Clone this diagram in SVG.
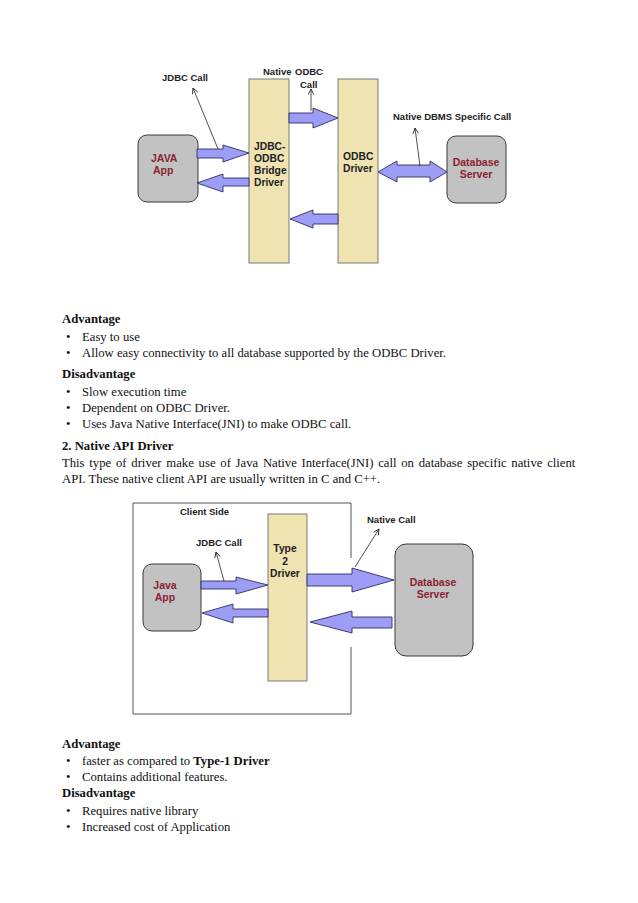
<svg xmlns="http://www.w3.org/2000/svg" width="638" height="903" viewBox="0 0 638 903">
<defs>
<marker id="open" viewBox="0 0 10 10" refX="9" refY="5" markerWidth="7" markerHeight="7" orient="auto" markerUnits="userSpaceOnUse">
<path d="M1,1 L9,5 L1,9" fill="none" stroke="#222" stroke-width="1.2"/>
</marker>
</defs>
<style>
.lbl{font-family:"Liberation Sans",Arial,sans-serif;font-weight:bold;font-size:9.5px;fill:#222}
.in{font-family:"Liberation Sans",Arial,sans-serif;font-weight:bold;font-size:10.3px;fill:#222}
.red{font-family:"Liberation Sans",Arial,sans-serif;font-weight:bold;font-size:10.5px;fill:#8b2232}
.gray{fill:#c2c2c2;stroke:#3a3a3a;stroke-width:1}
.drv{fill:#efe3b2;stroke:#7a7a7a;stroke-width:1}
.arr{fill:#9d9df5;stroke:#2e2e66;stroke-width:0.9}
.ptr{fill:none;stroke:#222;stroke-width:0.8;marker-end:url(#open)}
.body{font-family:"Liberation Serif","Times New Roman",serif;font-size:12.7px;fill:#111}
.b{font-weight:bold}
.box{fill:none;stroke:#555;stroke-width:1}
</style>
<rect width="638" height="903" fill="#fff"/>

<!-- Diagram 1 -->
<g id="java-app1">
<rect class="gray" x="138" y="135" width="60" height="67" rx="9"/>
<text class="red" x="151" y="162">JAVA</text>
<text class="red" x="153" y="174">App</text>
</g>
<g id="bridge">
<rect class="drv" x="249" y="79" width="40" height="184"/>
<text class="in" x="254" y="150">JDBC-</text>
<text class="in" x="254" y="162">ODBC</text>
<text class="in" x="254" y="174">Bridge</text>
<text class="in" x="254" y="186">Driver</text>
</g>
<g id="odbc-driver">
<rect class="drv" x="338" y="79" width="40" height="184"/>
<text class="in" x="343" y="160">ODBC</text>
<text class="in" x="343" y="172">Driver</text>
</g>
<g id="db-server1">
<rect class="gray" x="447" y="136" width="59" height="67" rx="9"/>
<text class="red" x="476" y="166" text-anchor="middle">Database</text>
<text class="red" x="476" y="178" text-anchor="middle">Server</text>
</g>
<g id="labels1">
<text class="lbl" x="162" y="81">JDBC Call</text>
<text class="lbl" x="263" y="75">Native</text>
<text class="lbl" x="295" y="75">ODBC</text>
<text class="lbl" x="300" y="88">Call</text>
<text class="lbl" x="393" y="120">Native DBMS Specific Call</text>
</g>
<g id="connectors1">
<polygon class="arr" points="197,149 223,149 223,145 249,153 223,162 223,158 197,158"/>
<polygon class="arr" points="249,178 223,178 223,174 197,183 223,192 223,186 249,186"/>
<polygon class="arr" points="289,113 313,113 313,108 338,118 313,128 313,123 289,123"/>
<polygon class="arr" points="338,214 313,214 313,210 290,219 313,228 313,224 338,224"/>
<polygon class="arr" points="378,172 397,161 397,165 430,165 430,161 447,172 430,182 430,177 397,177 397,182"/>
<line class="ptr" x1="218" y1="149" x2="193" y2="88"/>
<line class="ptr" x1="311" y1="111" x2="311" y2="89"/>
<line class="ptr" x1="420" y1="166" x2="415" y2="128"/>
</g>

<!-- Text block 1 -->
<g id="text1">
<text class="body b" x="62" y="323">Advantage</text>
<text class="body" x="66" y="341">•</text><text class="body" x="82" y="341">Easy to use</text>
<text class="body" x="66" y="357">•</text><text class="body" x="82" y="357">Allow easy connectivity to all database supported by the ODBC Driver.</text>
<text class="body b" x="62" y="378">Disadvantage</text>
<text class="body" x="66" y="396">•</text><text class="body" x="82" y="396">Slow execution time</text>
<text class="body" x="66" y="412">•</text><text class="body" x="82" y="412">Dependent on ODBC Driver.</text>
<text class="body" x="66" y="428">•</text><text class="body" x="82" y="428">Uses Java Native Interface(JNI) to make ODBC call.</text>
<text class="body b" x="62" y="450">2. Native API Driver</text>
<text class="body" x="62" y="467" word-spacing="1.6">This type of driver make use of Java Native Interface(JNI) call on database specific native client</text>
<text class="body" x="62" y="483">API. These native client API are usually written in C and C++.</text>
</g>

<!-- Diagram 2 -->
<g id="client-side">
<path class="box" d="M351,558 L351,503 L133,503 L133,714 L351,714 L351,647"/>
<text class="lbl" x="180" y="515">Client Side</text>
</g>
<g id="java-app2">
<rect class="gray" x="143" y="564" width="58" height="67" rx="9"/>
<text class="red" x="165" y="589" text-anchor="middle">Java</text>
<text class="red" x="165" y="601" text-anchor="middle">App</text>
</g>
<g id="type2">
<rect class="drv" x="268" y="514" width="39" height="167"/>
<text class="in" x="285" y="552" text-anchor="middle">Type</text>
<text class="in" x="285" y="565" text-anchor="middle">2</text>
<text class="in" x="285" y="577" text-anchor="middle">Driver</text>
</g>
<g id="db-server2">
<rect class="gray" x="395" y="544" width="78" height="112" rx="11"/>
<text class="red" x="433" y="586" text-anchor="middle">Database</text>
<text class="red" x="433" y="598" text-anchor="middle">Server</text>
</g>
<g id="labels2">
<text class="lbl" x="196" y="546">JDBC Call</text>
<text class="lbl" x="367" y="523">Native Call</text>
</g>
<g id="connectors2">
<polygon class="arr" points="201,581 236,581 236,577 268,585 236,594 236,589 201,589"/>
<polygon class="arr" points="268,609 233,609 233,604 202,613 233,623 233,617 268,617"/>
<polygon class="arr" points="307,574 352,574 352,568 394,580 352,592 352,586 307,586"/>
<polygon class="arr" points="392,617 352,617 352,611 310,622 352,633 352,628 392,628"/>
<line class="ptr" x1="224" y1="581" x2="216" y2="552"/>
<line class="ptr" x1="355" y1="567" x2="379" y2="529"/>
</g>

<!-- Text block 2 -->
<g id="text2">
<text class="body b" x="62" y="748">Advantage</text>
<text class="body" x="66" y="765">•</text><text class="body" x="82" y="765">faster as compared to <tspan class="b">Type-1 Driver</tspan></text>
<text class="body" x="66" y="781">•</text><text class="body" x="82" y="781">Contains additional features.</text>
<text class="body b" x="62" y="797">Disadvantage</text>
<text class="body" x="66" y="815">•</text><text class="body" x="82" y="815">Requires native library</text>
<text class="body" x="66" y="831">•</text><text class="body" x="82" y="831">Increased cost of Application</text>
</g>
</svg>
